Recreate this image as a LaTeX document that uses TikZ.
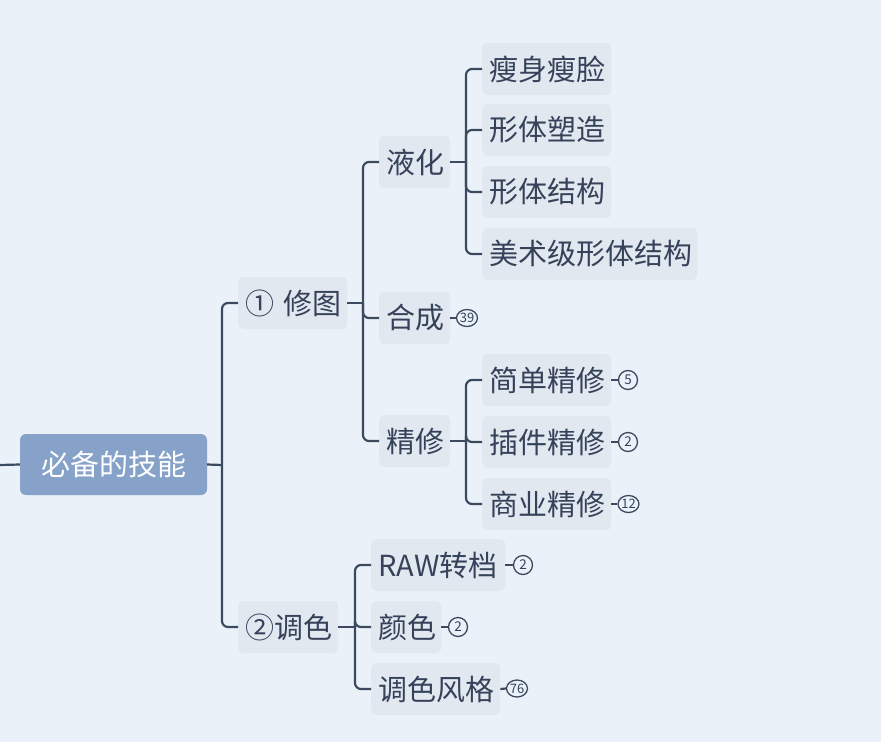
\documentclass[tikz,border=0pt]{standalone}
\usepackage{fontspec}
\newfontfamily\cjk{Noto Sans CJK SC}
\usetikzlibrary{shapes.geometric}
\definecolor{bgc}{HTML}{EAF1F9}
\definecolor{boxc}{HTML}{E1E8F0}
\definecolor{rootc}{HTML}{86A2C8}
\definecolor{txtc}{HTML}{36425A}
\definecolor{linec}{HTML}{3B4A5E}
\tikzset{
  topic/.style={fill=boxc, rounded corners=5pt, minimum height=52pt, inner xsep=7pt, anchor=west,
    text=txtc, align=left, font=\cjk\fontsize{29}{29}\selectfont},
  rootbox/.style={fill=rootc, rounded corners=6pt, minimum width=187pt, minimum height=61pt,
    text=white, font=\cjk\fontsize{29}{29}\selectfont},
  link/.style={draw=linec, line width=2.2pt, rounded corners=6pt},
  badge/.style={draw=linec, line width=1.3pt, circle, minimum size=19pt, inner sep=0pt,
    text=txtc, font=\cjk\fontsize{13.5}{13.5}\selectfont},
  badgew/.style={draw=linec, line width=1.3pt, ellipse, minimum width=21pt, minimum height=17pt, inner sep=0pt,
    text=txtc, font=\cjk\fontsize{13}{13}\selectfont}
}
\begin{document}
\begin{tikzpicture}[x=1pt,y=-1pt]
\fill[bgc] (0,0) rectangle (881,742);
\useasboundingbox (0,0) rectangle (881,742);
\coordinate (lft) at (0,465);
\coordinate (j0) at (222,465);
\coordinate (j1) at (363,303);
\coordinate (j2) at (466,162);
\coordinate (j3) at (466,441);
\coordinate (j4) at (355,627);
\node[rootbox] (root) at (113.5,464.5) {必备的技能};
\node[topic, text width=95pt] (n1) at (238,303) {\mbox{①~修图}};
\node[topic, text width=86pt] (n2) at (238,627) {②调色};
\node[topic, text width=57pt] (a1) at (379,162) {液化};
\node[topic, text width=57pt] (a2) at (379,318) {合成};
\node[topic, text width=57pt] (a3) at (379,441) {精修};
\node[topic, text width=115pt] (b1) at (482,69) {瘦身瘦脸};
\node[topic, text width=115pt] (b2) at (482,130) {形体塑造};
\node[topic, text width=115pt] (b3) at (482,192) {形体结构};
\node[topic, text width=201pt] (b4) at (482,254) {美术级形体结构};
\node[topic, text width=115pt] (c1) at (482,380) {简单精修};
\node[topic, text width=115pt] (c2) at (482,442) {插件精修};
\node[topic, text width=115pt] (c3) at (482,504) {商业精修};
\node[topic, text width=120pt] (d1) at (371,565) {RAW转档};
\node[topic, text width=56pt] (d2) at (371,627) {颜色};
\node[topic, text width=115pt] (d3) at (371,689) {调色风格};
\node[badgew] (k39) at (467,318) {39};
\node[badge] (k5) at (628,380) {5};
\node[badge] (k2a) at (628,442) {2};
\node[badgew] (k12) at (628.5,504) {12};
\node[badge] (k2b) at (523,565) {2};
\node[badge] (k2c) at (458,627) {2};
\node[badgew] (k76) at (517,688.5) {76};
% connectors
\draw[link] (lft) -- (root.west);
\draw[link] (root.east) -- (j0);
\foreach \c in {n1,n2} \draw[link] (j0) |- (\c.west);
\draw[link] (n1.east) -- (j1);
\foreach \c in {a1,a2,a3} \draw[link] (j1) |- (\c.west);
\draw[link] (a1.east) -- (j2);
\foreach \c in {b1,b2,b3,b4} \draw[link] (j2) |- (\c.west);
\draw[link] (a3.east) -- (j3);
\foreach \c in {c1,c2,c3} \draw[link] (j3) |- (\c.west);
\draw[link] (n2.east) -- (j4);
\foreach \c in {d1,d2,d3} \draw[link] (j4) |- (\c.west);
\draw[link] (a2.east) -- (k39.west);
\draw[link] (c1.east) -- (k5.west);
\draw[link] (c2.east) -- (k2a.west);
\draw[link] (c3.east) -- (k12.west);
\draw[link] (d1.east) -- (k2b.west);
\draw[link] (d2.east) -- (k2c.west);
\draw[link] (d3.east) -- (k76.west);
\end{tikzpicture}
\end{document}
